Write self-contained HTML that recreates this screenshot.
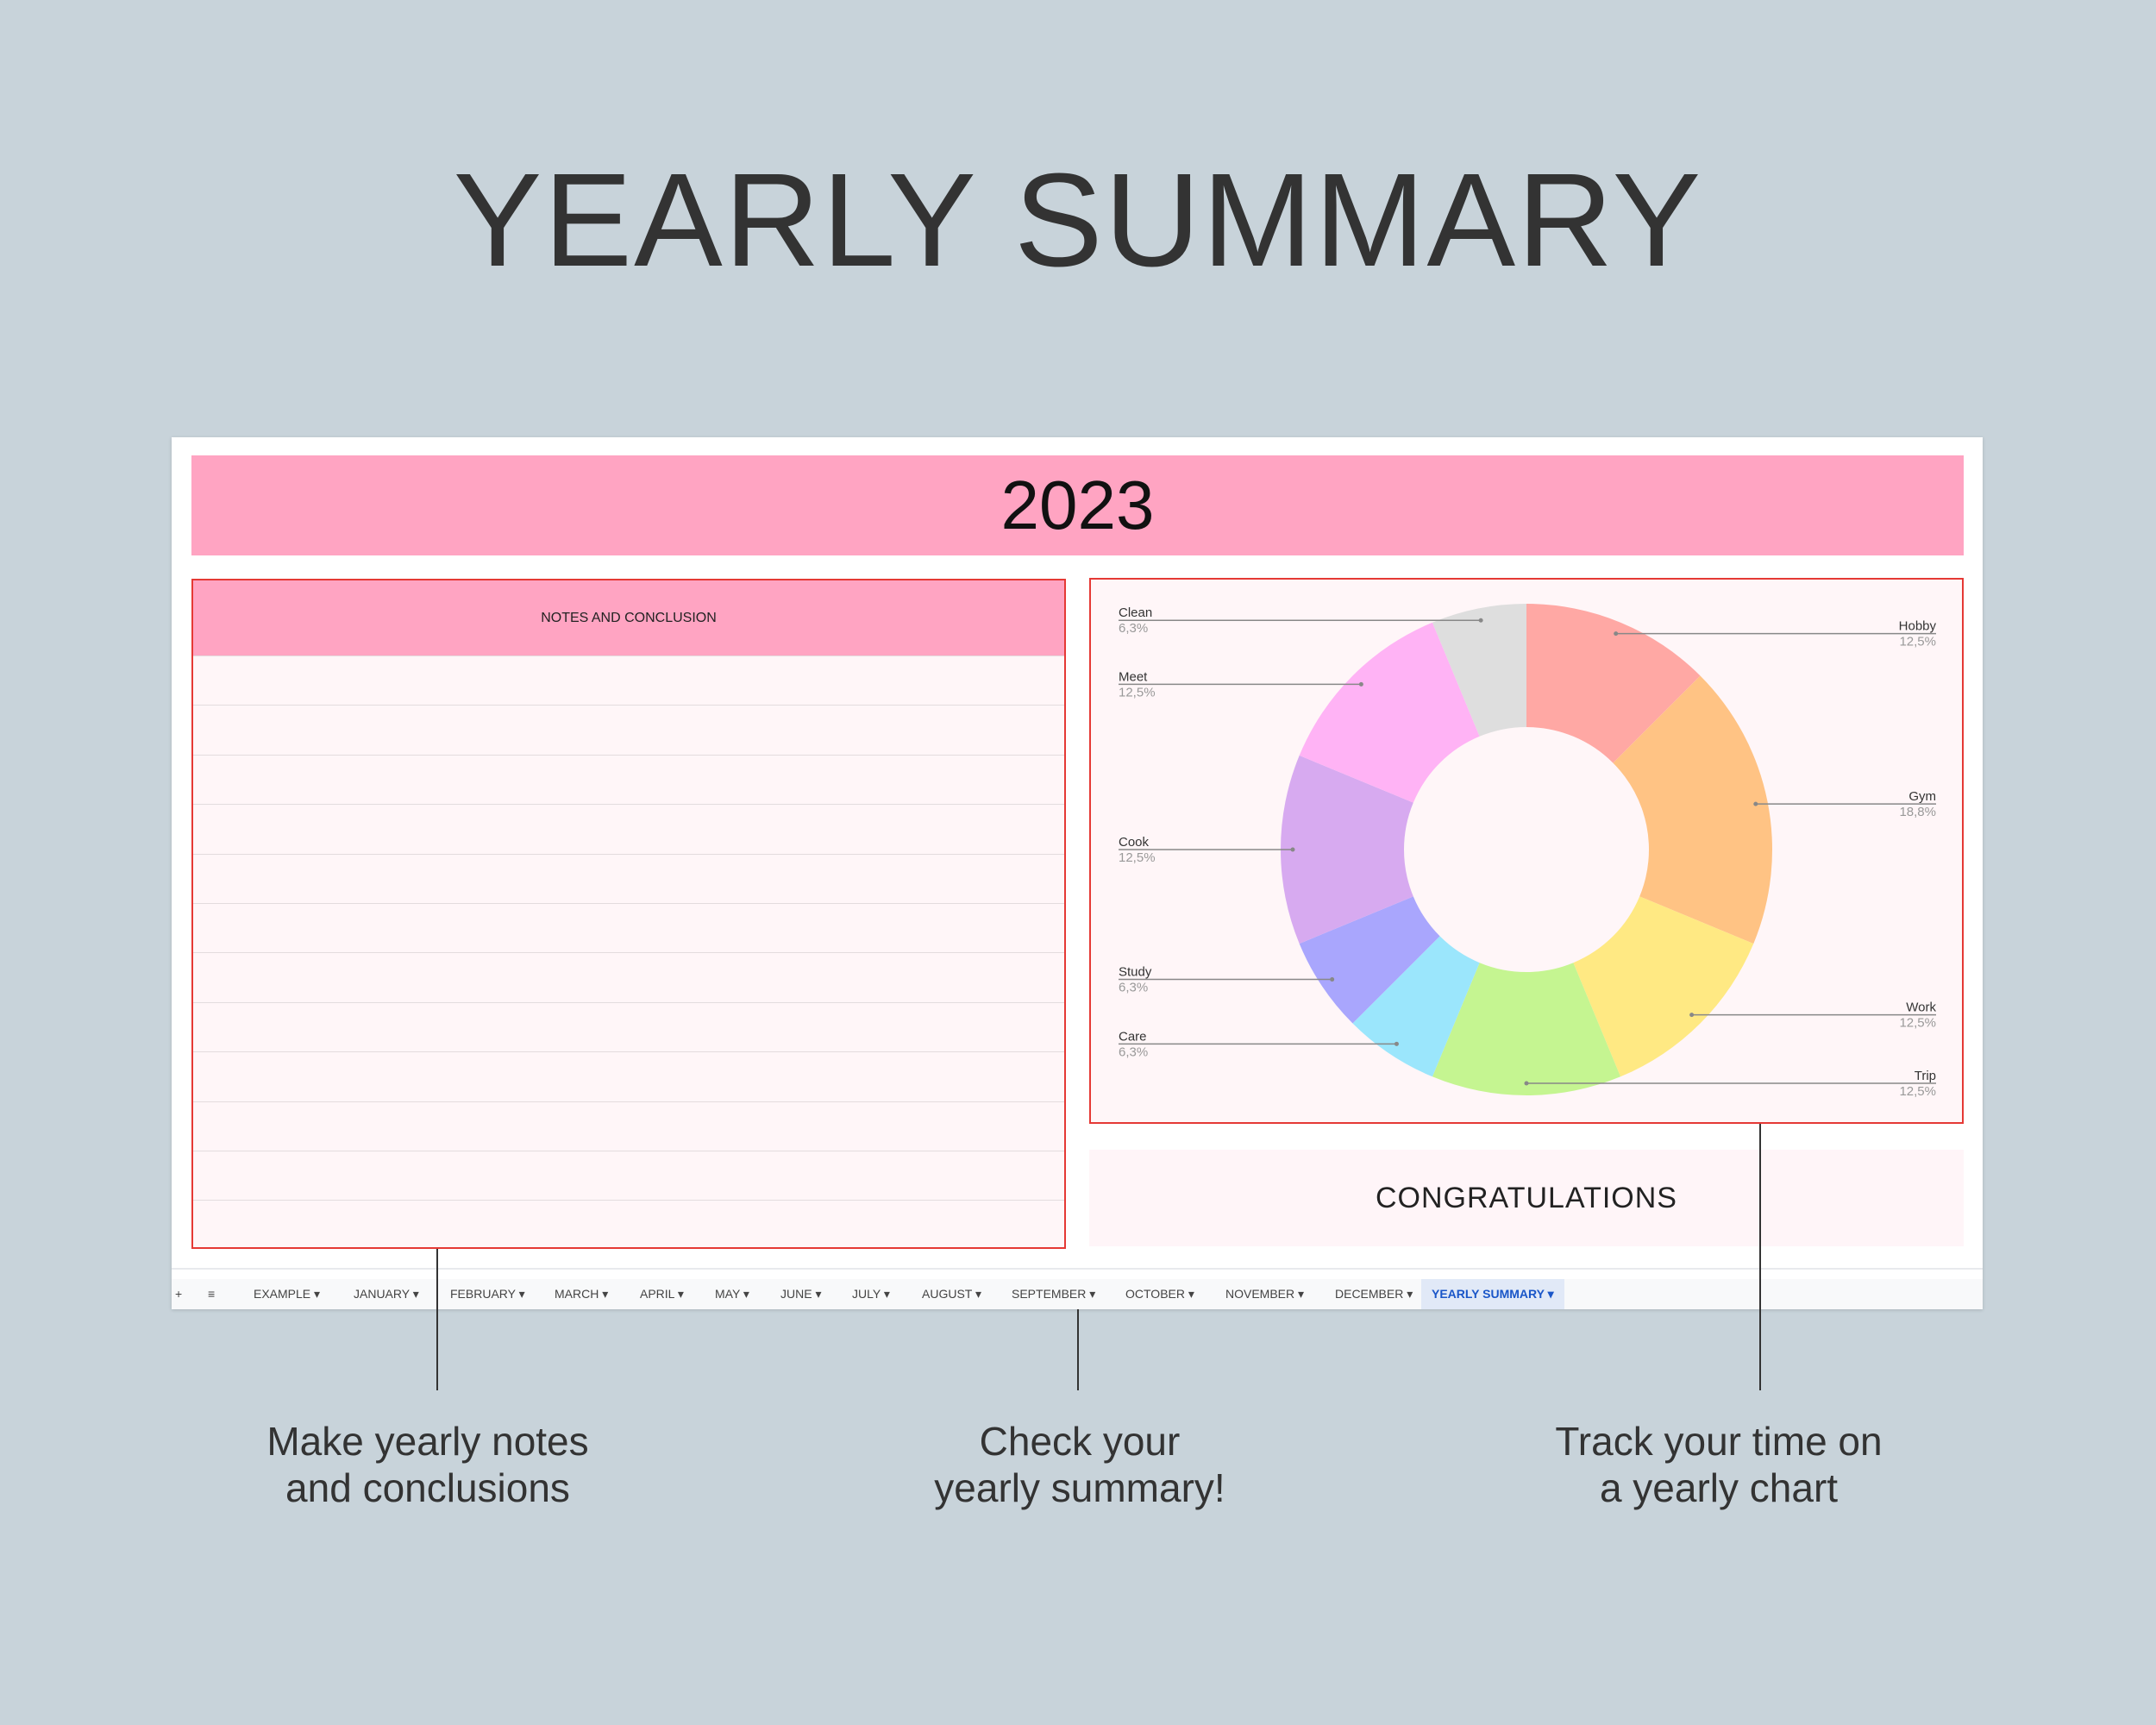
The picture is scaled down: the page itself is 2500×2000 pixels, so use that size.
<!DOCTYPE html>
<html><head><meta charset="utf-8">
<style>
*{margin:0;padding:0;box-sizing:border-box}
body{width:2500px;height:2000px;background:#c8d3da;position:relative;overflow:hidden;font-family:"Liberation Sans",sans-serif;color:#333}
.abs{position:absolute}
#title{left:0;width:2500px;top:165px;text-align:center;font-size:154px;line-height:180px;letter-spacing:2px;color:#333}
#card{left:199px;top:507px;width:2100px;height:1011px;background:#fff;box-shadow:0 1px 4px rgba(0,0,0,.15)}
#year{left:222px;top:528px;width:2055px;height:116px;background:#ffa4c2;text-align:center;font-size:80px;line-height:116px;color:#111}
#notes{left:222px;top:671px;width:1014px;height:777px;border:2px solid #e53935;background:#fff6f8}
#notes-head{left:0;top:0;width:1010px;height:87px;background:#ffa4c2;text-align:center;font-size:16px;line-height:87px;color:#222}
.row{left:0;width:1010px;height:1px;background:#e3dcde}
#chart-box{left:1263px;top:670px;width:1014px;height:633px;border:2px solid #e53935;background:#fff6f8}
#congrats{left:1263px;top:1333px;width:1014px;height:112px;background:#fff5f8;text-align:center;font-size:34px;line-height:112px;letter-spacing:1px;color:#222}
#sep{left:199px;top:1470px;width:2100px;height:2px;background:#e8eaed}
#tabs{left:199px;top:1483px;width:2100px;height:35px;background:#f8f9fa}
.tab{top:0;font-size:14px;line-height:35px;color:#444;white-space:nowrap}
.tab.active{color:#1a56c8;background:#e1e9f7;padding:0 12px;font-weight:bold}
.vline{width:2px;background:#333}
.cap{font-size:46px;line-height:54px;text-align:center;color:#333;width:800px}
</style></head><body>
<div id="title" class="abs">YEARLY SUMMARY</div>
<div id="card" class="abs"></div>
<div id="year" class="abs">2023</div>
<div id="notes" class="abs">
  <div id="notes-head" class="abs">NOTES AND CONCLUSION</div>
</div>
<div id="chart-box" class="abs">
<svg id="donut" width="1010" height="629"></svg>
</div>
<div id="congrats" class="abs">CONGRATULATIONS</div>
<div id="sep" class="abs"></div>
<div id="tabs" class="abs"></div>
<div class="abs vline" style="left:506px;top:1448px;height:164px"></div>
<div class="abs vline" style="left:1249px;top:1518px;height:94px"></div>
<div class="abs vline" style="left:2040px;top:1303px;height:309px"></div>
<div class="abs cap" style="left:96px;top:1644px">Make yearly notes<br>and conclusions</div>
<div class="abs cap" style="left:852px;top:1644px">Check your<br>yearly summary!</div>
<div class="abs cap" style="left:1593px;top:1644px">Track your time on<br>a yearly chart</div>
<script>
const categories=["Hobby","Gym","Work","Trip","Care","Study","Cook","Meet","Clean"];
const values=[2,3,2,2,1,1,2,2,1];
const pctLabels=["12,5%","18,8%","12,5%","12,5%","6,3%","6,3%","12,5%","12,5%","6,3%"];
const colors=["#ffa8a4","#ffc384","#ffe983","#c5f591","#9be6fc","#a9a6fd","#d7aaf0","#ffb3f5","#dedede"];
const tabNames=["EXAMPLE","JANUARY","FEBRUARY","MARCH","APRIL","MAY","JUNE","JULY","AUGUST","SEPTEMBER","OCTOBER","NOVEMBER","DECEMBER","YEARLY SUMMARY"];

const notes=document.getElementById('notes');
for(let i=0;i<12;i++){
  const r=document.createElement('div');
  r.className='abs row';r.style.top=(87+i*57.4)+'px';
  
  
  notes.appendChild(r);
}
const tabs=document.getElementById('tabs');
const tabX=[95,211,323,444,543,630,706,789,870,974,1106,1222,1349,1461];
function addTab(txt,x,cls){
  const t=document.createElement('div');
  t.className='abs tab'+(cls?' '+cls:'');t.style.left=x+'px';t.textContent=txt;
  
  
  tabs.appendChild(t);
}
addTab('+',4);addTab('≡',42);
tabNames.forEach((n,i)=>{addTab(n+'  ▾',tabX[i]-(i==13?12:0),i==13?'active':'');});

const svg=document.getElementById('donut');
const NS='http://www.w3.org/2000/svg';
const cx=505,cy=313,R=285,r0=142,rl=271;
const total=values.reduce((a,b)=>a+b,0);
function pt(a,rad){return [cx+rad*Math.sin(a),cy-rad*Math.cos(a)];}
let acc=0;
values.forEach((v,i)=>{
  const a0=acc/total*2*Math.PI;acc+=v;const a1=acc/total*2*Math.PI;
  const lg=(a1-a0)>Math.PI?1:0;
  const p1=pt(a0,R),p2=pt(a1,R),p3=pt(a1,r0),p4=pt(a0,r0);
  const p=document.createElementNS(NS,'path');
  p.setAttribute('d',`M${p1}A${R},${R} 0 ${lg} 1 ${p2}L${p3}A${r0},${r0} 0 ${lg} 0 ${p4}Z`);
  p.setAttribute('fill',colors[i]);
  
  
  svg.appendChild(p);
  const am=(a0+a1)/2;const [px,py]=pt(am,rl);
  const right=Math.sin(am)>0;
  const lx=right?980:32;
  const ln=document.createElementNS(NS,'line');
  ln.setAttribute('x1',px);ln.setAttribute('y1',py);ln.setAttribute('x2',lx);ln.setAttribute('y2',py);
  ln.setAttribute('stroke','#888');ln.setAttribute('stroke-width','1.5');
  
  
  svg.appendChild(ln);
  const dot=document.createElementNS(NS,'circle');
  dot.setAttribute('cx',px);dot.setAttribute('cy',py);dot.setAttribute('r',2.5);dot.setAttribute('fill','#888');
  
  
  svg.appendChild(dot);
  [[categories[i],py-4,'#333'],[pctLabels[i],py+14,'#999']].forEach(([s,y,c],k)=>{
    const t=document.createElementNS(NS,'text');
    t.setAttribute('x',lx);t.setAttribute('y',y);t.setAttribute('font-size','15');
    t.setAttribute('font-family','Liberation Sans, sans-serif');t.setAttribute('fill',c);
    t.setAttribute('text-anchor',right?'end':'start');t.textContent=s;
    
    
    svg.appendChild(t);
  });
});
</script>
</body></html>
